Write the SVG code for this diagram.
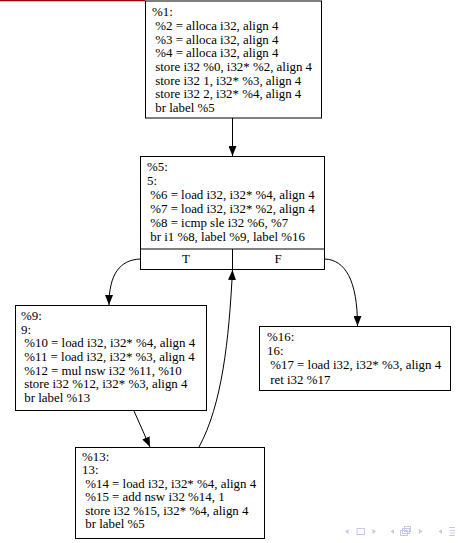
<svg xmlns="http://www.w3.org/2000/svg" width="458" height="543" viewBox="0 0 458 543">
<style>
.box{fill:#fff;stroke:#000;stroke-width:1}
.t{font-family:"Liberation Serif","Times New Roman",serif;font-size:12.9px;fill:#000}
.c{text-anchor:middle}
.e{fill:none;stroke:#000;stroke-width:1}
.nav{fill:#c8c8ec}
.navs{fill:none;stroke:#c8c8ec;stroke-width:1}
</style>
<defs>
<marker id="ah" markerUnits="userSpaceOnUse" markerWidth="10" markerHeight="8" refX="10" refY="4" orient="auto">
<path d="M0,0 L10,4 L0,8 Z" fill="#000"/>
</marker>
</defs>
<rect x="0" y="0" width="458" height="543" fill="#fff"/>
<line x1="0" y1="0.5" x2="145" y2="0.5" stroke="#a00000" stroke-width="1.5"/>

<g id="connectors">
<path class="e" d="M232.5,118 L232.5,156" marker-end="url(#ah)"/>
<path class="e" d="M140,259 C120,260 109,274 109,305" marker-end="url(#ah)"/>
<path class="e" d="M325,259 C345,260 357.5,280 357.5,326" marker-end="url(#ah)"/>
<path class="e" d="M134,411 L150,447" marker-end="url(#ah)"/>
<path class="e" d="M199,447 C222,405 229,340 232.5,270" marker-end="url(#ah)"/>
</g>

<g id="n1">
<rect class="box" x="145.5" y="1" width="176" height="117"/>
<text class="t" x="152" y="16">%1:</text>
<text class="t" x="152" y="30" xml:space="preserve"> %2 = alloca i32, align 4</text>
<text class="t" x="152" y="44" xml:space="preserve"> %3 = alloca i32, align 4</text>
<text class="t" x="152" y="57" xml:space="preserve"> %4 = alloca i32, align 4</text>
<text class="t" x="152" y="71" xml:space="preserve"> store i32 %0, i32* %2, align 4</text>
<text class="t" x="152" y="85" xml:space="preserve"> store i32 1, i32* %3, align 4</text>
<text class="t" x="152" y="98" xml:space="preserve"> store i32 2, i32* %4, align 4</text>
<text class="t" x="152" y="112" xml:space="preserve"> br label %5</text>
</g>

<g id="n5">
<rect class="box" x="140.5" y="156.5" width="184" height="113"/>
<line class="e" x1="140.5" y1="249" x2="324.5" y2="249"/>
<line class="e" x1="232.5" y1="249" x2="232.5" y2="269.5"/>
<text class="t" x="147" y="171">%5:</text>
<text class="t" x="147" y="185">5:</text>
<text class="t" x="147" y="199" xml:space="preserve"> %6 = load i32, i32* %4, align 4</text>
<text class="t" x="147" y="213" xml:space="preserve"> %7 = load i32, i32* %2, align 4</text>
<text class="t" x="147" y="227" xml:space="preserve"> %8 = icmp sle i32 %6, %7</text>
<text class="t" x="147" y="241" xml:space="preserve"> br i1 %8, label %9, label %16</text>
<text class="t c" x="186" y="263">T</text>
<text class="t c" x="278" y="263">F</text>
</g>

<g id="n9">
<rect class="box" x="15.5" y="305.5" width="191" height="105"/>
<text class="t" x="21" y="320">%9:</text>
<text class="t" x="21" y="334">9:</text>
<text class="t" x="21" y="347" xml:space="preserve"> %10 = load i32, i32* %4, align 4</text>
<text class="t" x="21" y="361" xml:space="preserve"> %11 = load i32, i32* %3, align 4</text>
<text class="t" x="21" y="375" xml:space="preserve"> %12 = mul nsw i32 %11, %10</text>
<text class="t" x="21" y="388" xml:space="preserve"> store i32 %12, i32* %3, align 4</text>
<text class="t" x="21" y="402" xml:space="preserve"> br label %13</text>
</g>

<g id="n16">
<rect class="box" x="259.5" y="326.5" width="191" height="64"/>
<text class="t" x="267" y="341">%16:</text>
<text class="t" x="267" y="355">16:</text>
<text class="t" x="267" y="369" xml:space="preserve"> %17 = load i32, i32* %3, align 4</text>
<text class="t" x="267" y="384" xml:space="preserve"> ret i32 %17</text>
</g>

<g id="n13">
<rect class="box" x="75.5" y="447.5" width="189" height="91"/>
<text class="t" x="82" y="461">%13:</text>
<text class="t" x="82" y="474">13:</text>
<text class="t" x="82" y="488" xml:space="preserve"> %14 = load i32, i32* %4, align 4</text>
<text class="t" x="82" y="501" xml:space="preserve"> %15 = add nsw i32 %14, 1</text>
<text class="t" x="82" y="515" xml:space="preserve"> store i32 %15, i32* %4, align 4</text>
<text class="t" x="82" y="528" xml:space="preserve"> br label %5</text>
</g>

<g id="nav">
<path class="nav" d="M345,531.5 L348.5,529 L348.5,534 Z"/>
<rect class="navs" x="357" y="528.5" width="7.5" height="6"/>
<path class="nav" d="M376,531.5 L372.5,529 L372.5,534 Z"/>
<path class="nav" d="M390.5,531.5 L394,529 L394,534 Z"/>
<rect class="navs" x="400.5" y="530.5" width="7" height="5"/>
<rect class="navs" x="402.5" y="528.5" width="7" height="5"/>
<rect class="navs" x="404.5" y="526.5" width="6" height="5"/>
<path class="nav" d="M422.5,531.5 L419,529 L419,534 Z"/>
<path class="nav" d="M438.5,531.5 L442,529 L442,534 Z"/>
<line class="navs" x1="449" y1="527.5" x2="455" y2="527.5"/>
<line class="navs" x1="450" y1="530.5" x2="455" y2="530.5"/>
<line class="navs" x1="450" y1="533" x2="455" y2="533"/>
<line class="navs" x1="449" y1="535.5" x2="455" y2="535.5"/>
</g>
</svg>
